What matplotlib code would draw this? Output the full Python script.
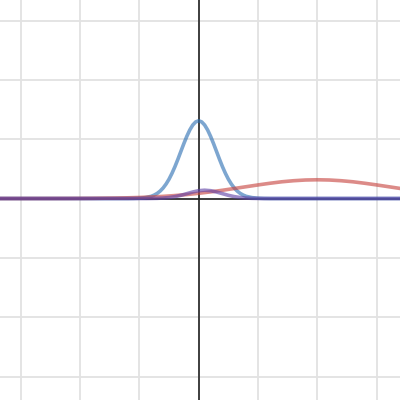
import matplotlib
matplotlib.use("Agg")
import matplotlib.pyplot as plt

# Blue curve
blue_x = [-3.5, -1.2, -1.1, -1.0, -0.9, -0.8, -0.75, -0.7, -0.65, -0.6, -0.55, -0.5, -0.45,
          -0.4, -0.35, -0.3, -0.25, -0.2, -0.15, -0.1, -0.05, 0.0, 0.05, 0.1, 0.15, 0.2,
          0.25, 0.3, 0.35, 0.4, 0.45, 0.5, 0.55, 0.6, 0.65, 0.7, 0.75, 0.8, 0.9, 1.0,
          1.1, 1.2, 3.5]
blue_y = [0.0, 0.0, 0.0015, 0.005, 0.015, 0.037, 0.058, 0.086, 0.125, 0.177, 0.244, 0.326, 0.425,
          0.538, 0.663, 0.795, 0.926, 1.049, 1.156, 1.239, 1.292, 1.31, 1.292, 1.239, 1.156, 1.049,
          0.926, 0.795, 0.663, 0.538, 0.425, 0.326, 0.244, 0.177, 0.125, 0.086, 0.058, 0.037, 0.015, 0.005,
          0.0015, 0.0, 0.0]

# Red curve
red_x = [-3.5, -3.0, -2.6, -2.2, -1.8, -1.4, -1.2, -1.0, -0.8, -0.6, -0.4, -0.2, 0.0, 0.2,
         0.4, 0.6, 0.8, 1.0, 1.2, 1.4, 1.6, 1.8, 2.0, 2.2, 2.4, 2.6, 2.8, 3.0, 3.2, 3.4, 3.5]
red_y = [0.0, 0.0001, 0.0004, 0.0011, 0.0031, 0.0078, 0.0119, 0.0177, 0.0257, 0.0363, 0.050, 0.0671,
         0.0879, 0.112, 0.139, 0.169, 0.199, 0.229, 0.257, 0.282, 0.300, 0.312, 0.316, 0.312, 0.300,
         0.282, 0.257, 0.229, 0.199, 0.169, 0.155]

# Purple curve
purple_x = [-3.5, -1.0, -0.9, -0.8, -0.7, -0.6, -0.5, -0.4, -0.3, -0.2, -0.1, 0.0, 0.1, 0.2,
            0.3, 0.4, 0.5, 0.6, 0.7, 0.8, 0.9, 1.0, 1.1, 3.5]
purple_y = [0.0, 0.0, 0.0, 0.0011, 0.003, 0.0076, 0.0165, 0.032, 0.054, 0.082, 0.110, 0.132, 0.140,
            0.132, 0.110, 0.082, 0.054, 0.032, 0.0165, 0.0076, 0.003, 0.0011, 0.0, 0.0]

grid_ticks = [-3, -2, -1, 0, 1, 2, 3]

fig = plt.figure(figsize=(4, 4), dpi=100)
ax = fig.add_axes([0, 0, 1, 1])
ax.set_xlim(-3.349, 3.393)
ax.set_ylim(-3.396, 3.346)
for s in ax.spines.values():
    s.set_visible(False)
ax.set_xticks(grid_ticks)
ax.set_yticks(grid_ticks)
ax.tick_params(length=0, labelbottom=False, labelleft=False)
ax.grid(True, color="#e2e2e2", linewidth=1.3)
ax.set_axisbelow(True)

ax.axhline(0, color="#222222", linewidth=1.2, zorder=2)
ax.axvline(0, color="#222222", linewidth=1.2, zorder=2)

lw = 2.6
ax.plot(blue_x, blue_y, color="#2d70b3", alpha=0.62, linewidth=lw, zorder=3,
        solid_joinstyle="round", solid_capstyle="round")
ax.plot(red_x, red_y, color="#c74440", alpha=0.62, linewidth=lw, zorder=4,
        solid_joinstyle="round", solid_capstyle="round")
ax.plot(purple_x, purple_y, color="#6042a6", alpha=0.62, linewidth=lw, zorder=5,
        solid_joinstyle="round", solid_capstyle="round")

fig.savefig("out.png", dpi=100)
